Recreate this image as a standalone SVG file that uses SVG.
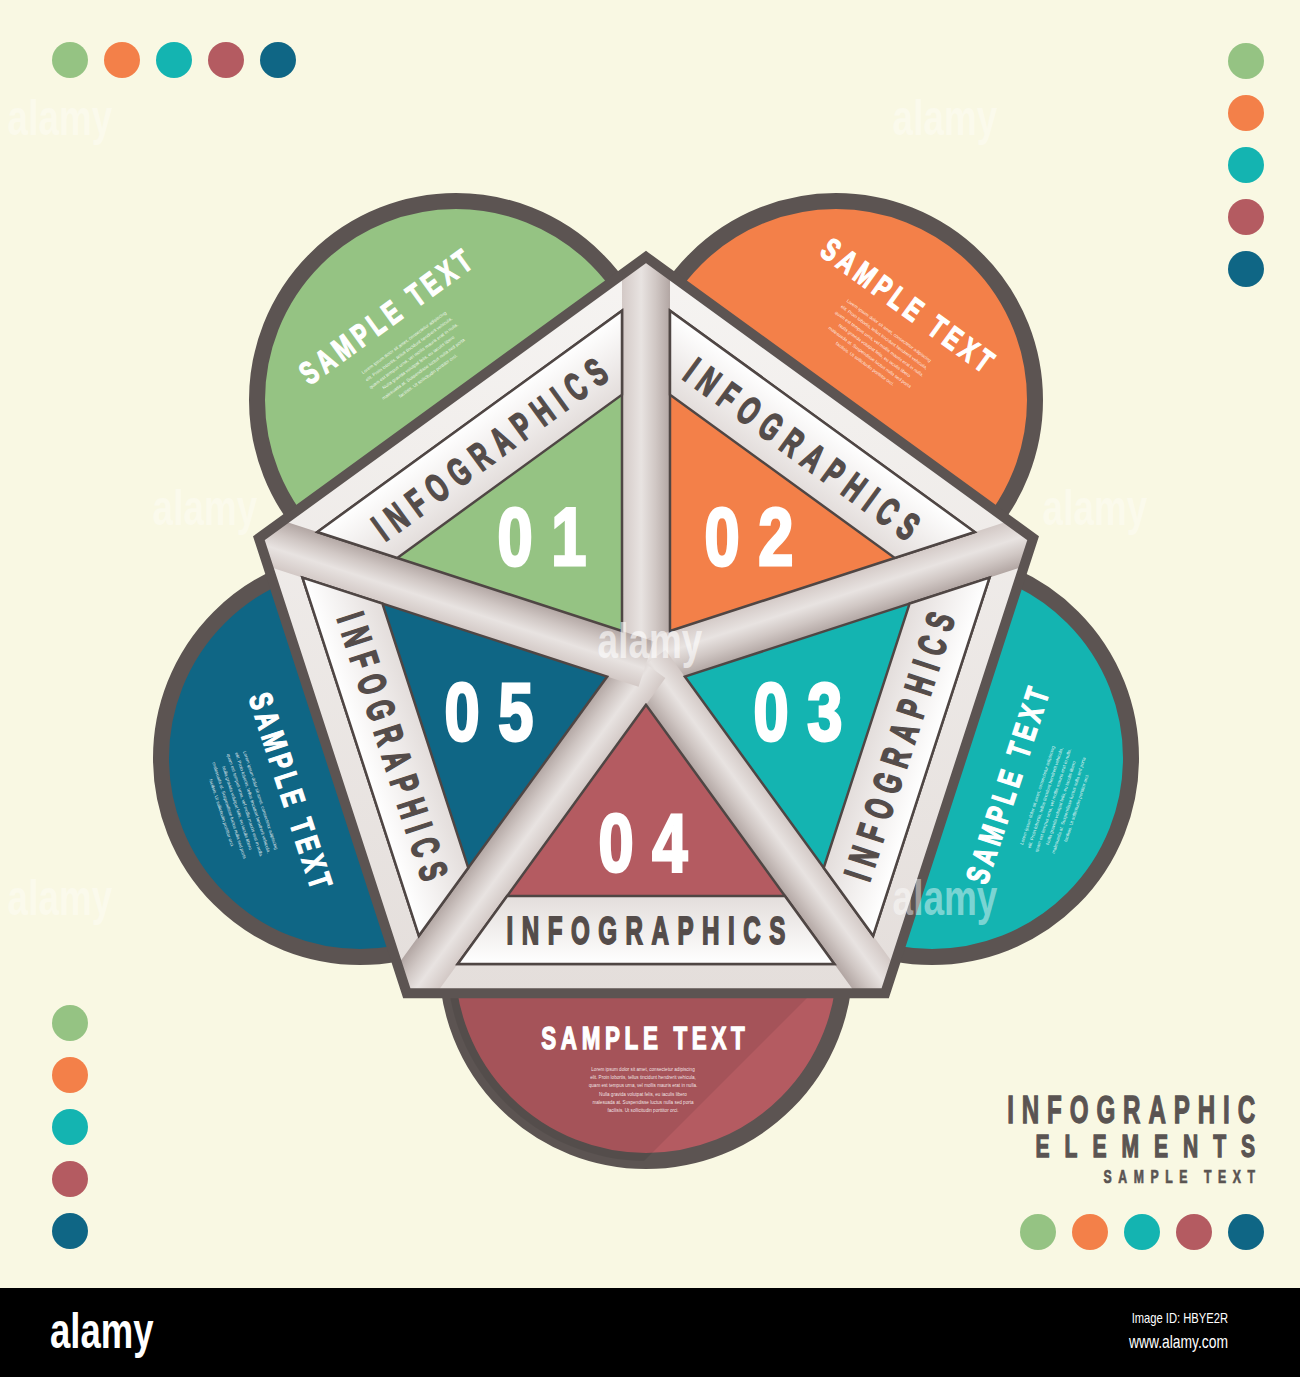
<svg xmlns="http://www.w3.org/2000/svg" width="1300" height="1377" viewBox="0 0 1300 1377">
<defs>
<style>
.bg{fill:#f9f8e3}
.rim{stroke:#5c5452;stroke-width:16}
.g{fill:#95c383}.o{fill:#f38049}.t{fill:#14b4b1}.r{fill:#b45b61}.b{fill:#0f6685}
.tri{stroke:#4f4644;stroke-width:2.5}
.ban{fill:url(#banG);stroke:#4f4644;stroke-width:2.5}
.ib{font-family:"Liberation Sans",Arial,sans-serif;font-weight:bold;font-size:39px;fill:#544c4a;stroke:#544c4a;stroke-width:1.8px;letter-spacing:13.7px;text-anchor:middle}
.num{font-family:"Liberation Sans",Arial,sans-serif;font-weight:bold;font-size:81px;fill:#fff;stroke:#fff;stroke-width:3px;letter-spacing:24px;text-anchor:middle}
.st{font-family:"Liberation Sans",Arial,sans-serif;font-weight:bold;font-size:32px;fill:#fff;stroke:#fff;stroke-width:1.4px;letter-spacing:6.7px;text-anchor:middle}
.lo{font-family:"Liberation Sans",Arial,sans-serif;font-size:4.6px;fill:#fff;fill-opacity:.85;text-anchor:middle}
.tt{font-family:"Liberation Sans",Arial,sans-serif;font-weight:bold;fill:#5a5452;stroke:#5a5452;stroke-width:1.3px;text-anchor:end}
.wm{font-family:"Liberation Sans",Arial,sans-serif;font-weight:bold;font-size:50px;fill:#fff;text-anchor:middle}
.ft{font-family:"Liberation Sans",Arial,sans-serif;fill:#fff}
</style>
<linearGradient id="banG" x1="0" y1="0" x2="0" y2="1"><stop offset="0" stop-color="#ffffff"/><stop offset="1" stop-color="#e3dddb"/></linearGradient>
<linearGradient id="spk" x1="0" y1="0" x2="1" y2="0"><stop offset="0" stop-color="#d3c9c6"/><stop offset="0.4" stop-color="#e8e3e1"/><stop offset="0.7" stop-color="#d0c7c4"/><stop offset="1" stop-color="#b2a6a3"/></linearGradient>
<linearGradient id="frm" x1="0" y1="0" x2="0" y2="1"><stop offset="0" stop-color="#f6f4f2"/><stop offset="1" stop-color="#e4dedb"/></linearGradient>
<clipPath id="pclip"><polygon points="646,257 1033.1,538.2 885.2,993.3 406.8,993.3 258.9,538.2"/></clipPath>
<clipPath id="redclip"><circle cx="646" cy="962" r="199"/></clipPath>
<g id="lorem">
<text class="lo" y="22">Lorem ipsum dolor sit amet, consectetur adipiscing</text>
<text class="lo" y="30.2">elit. Proin lobortis, tellus tincidunt hendrerit vehicula,</text>
<text class="lo" y="38.4">quam est tempus urna, vel mollis mauris erat in nulla.</text>
<text class="lo" y="46.6">Nulla gravida volutpat felis, eu iaculis libero</text>
<text class="lo" y="54.8">malesuada at. Suspendisse luctus nulla sed porta</text>
<text class="lo" y="63">facilisis. Ut sollicitudin porttitor orci.</text>
</g>
</defs>

<rect class="bg" x="0" y="0" width="1300" height="1288"/>

<!-- decorative dots -->
<g id="dots">
<circle class="g" cx="70" cy="60" r="18"/><circle class="o" cx="122" cy="60" r="18"/><circle class="t" cx="174" cy="60" r="18"/><circle class="r" cx="226" cy="60" r="18"/><circle class="b" cx="278" cy="60" r="18"/>
<circle class="g" cx="1246" cy="61" r="18"/><circle class="o" cx="1246" cy="113" r="18"/><circle class="t" cx="1246" cy="165" r="18"/><circle class="r" cx="1246" cy="217" r="18"/><circle class="b" cx="1246" cy="269" r="18"/>
<circle class="g" cx="70" cy="1023" r="18"/><circle class="o" cx="70" cy="1075" r="18"/><circle class="t" cx="70" cy="1127" r="18"/><circle class="r" cx="70" cy="1179" r="18"/><circle class="b" cx="70" cy="1231" r="18"/>
<circle class="g" cx="1038" cy="1232" r="18"/><circle class="o" cx="1090" cy="1232" r="18"/><circle class="t" cx="1142" cy="1232" r="18"/><circle class="r" cx="1194" cy="1232" r="18"/><circle class="b" cx="1246" cy="1232" r="18"/>
</g>

<!-- circles behind pentagon -->
<g id="circle-01">
<circle class="g rim" cx="456" cy="400" r="199"/>
<g transform="translate(392,326) rotate(-36)"><text class="st" transform="scale(0.7 1)" x="3.3">SAMPLE TEXT</text><use href="#lorem"/></g>
</g>
<g id="circle-02">
<circle class="o rim" cx="836" cy="400" r="199"/>
<g transform="translate(901,314) rotate(36)"><text class="st" transform="scale(0.7 1)" x="3.3">SAMPLE TEXT</text><use href="#lorem"/></g>
</g>
<g id="circle-03">
<circle class="t rim" cx="932" cy="758" r="199"/>
<g transform="translate(1018,789) rotate(-72)"><text class="st" transform="scale(0.7 1)" x="3.3">SAMPLE TEXT</text><use href="#lorem"/></g>
</g>
<g id="circle-05">
<circle class="b rim" cx="360" cy="758" r="199"/>
<g transform="translate(280,794) rotate(72)"><text class="st" transform="scale(0.7 1)" x="3.3">SAMPLE TEXT</text><use href="#lorem"/></g>
</g>
<g id="circle-04">
<circle class="r rim" cx="646" cy="962" r="199"/>
<polygon clip-path="url(#redclip)" points="815,990 630,1175 430,1175 430,990" fill="#000" fill-opacity="0.08"/>
<g transform="translate(643,1049)"><text class="st" transform="scale(0.7 1)" x="3.3">SAMPLE TEXT</text><use href="#lorem"/></g>
</g>

<!-- pentagon -->
<g id="pentagon">
<polygon points="646,257 1033.1,538.2 885.2,993.3 406.8,993.3 258.9,538.2" fill="url(#frm)"/>
<g clip-path="url(#pclip)">
<rect x="-24" y="-420" width="48" height="420" fill="url(#spk)" transform="translate(646,664) rotate(0)"/>
<rect x="-24" y="-420" width="48" height="420" fill="url(#spk)" transform="translate(646,664) rotate(72)"/>
<rect x="-24" y="-420" width="48" height="420" fill="url(#spk)" transform="translate(646,664) rotate(144)"/>
<rect x="-24" y="-420" width="48" height="420" fill="url(#spk)" transform="translate(646,664) rotate(216)"/>
<rect x="-24" y="-420" width="48" height="420" fill="url(#spk)" transform="translate(646,664) rotate(288)"/>
</g>
<polygon points="646,257 1033.1,538.2 885.2,993.3 406.8,993.3 258.9,538.2" fill="none" stroke="#5c5452" stroke-width="10"/>
</g>

<g id="sector-01" transform="translate(646,664) rotate(-36)">
<polygon class="g tri" points="0,-40.8 188.3,-300 -188.3,-300"/>
<polygon class="ban" points="-138.9,-232 138.9,-232 188.3,-300 -188.3,-300"/>
<text class="ib" transform="scale(0.62 1)" x="6.8" y="-252">INFOGRAPHICS</text>
</g>
<g id="sector-02" transform="translate(646,664) rotate(36)">
<polygon class="o tri" points="0,-40.8 188.3,-300 -188.3,-300"/>
<polygon class="ban" points="-138.9,-232 138.9,-232 188.3,-300 -188.3,-300"/>
<text class="ib" transform="scale(0.62 1)" x="6.8" y="-252">INFOGRAPHICS</text>
</g>
<g id="sector-03" transform="translate(646,664) rotate(108)">
<polygon class="t tri" points="0,-40.8 188.3,-300 -188.3,-300"/>
<polygon class="ban" points="-138.9,-232 138.9,-232 188.3,-300 -188.3,-300"/>
<text class="ib" transform="rotate(180) scale(0.62 1)" x="6.8" y="280">INFOGRAPHICS</text>
</g>
<g id="sector-04" transform="translate(646,664) rotate(180)">
<polygon class="r tri" points="0,-40.8 188.3,-300 -188.3,-300"/>
<polygon class="ban" points="-138.9,-232 138.9,-232 188.3,-300 -188.3,-300"/>
<text class="ib" transform="rotate(180) scale(0.62 1)" x="6.8" y="280">INFOGRAPHICS</text>
</g>
<g id="sector-05" transform="translate(646,664) rotate(252)">
<polygon class="b tri" points="0,-40.8 188.3,-300 -188.3,-300"/>
<polygon class="ban" points="-138.9,-232 138.9,-232 188.3,-300 -188.3,-300"/>
<text class="ib" transform="rotate(180) scale(0.62 1)" x="6.8" y="280">INFOGRAPHICS</text>
</g>

<g id="numbers">
<g transform="translate(542,565) scale(0.78 1)"><text class="num" x="12">01</text></g>
<g transform="translate(749,565) scale(0.78 1)"><text class="num" x="12">02</text></g>
<g transform="translate(798,740) scale(0.78 1)"><text class="num" x="12">03</text></g>
<g transform="translate(643,871) scale(0.78 1)"><text class="num" x="12">04</text></g>
<g transform="translate(489,740) scale(0.78 1)"><text class="num" x="12">05</text></g>
</g>

<!-- watermarks -->
<g id="watermarks">
<text class="wm" transform="translate(60,135) scale(0.74 1)" fill-opacity="0.35">alamy</text>
<text class="wm" transform="translate(945,135) scale(0.74 1)" fill-opacity="0.35">alamy</text>
<text class="wm" transform="translate(205,525) scale(0.74 1)" fill-opacity="0.35">alamy</text>
<text class="wm" transform="translate(1095,525) scale(0.74 1)" fill-opacity="0.35">alamy</text>
<text class="wm" transform="translate(60,915) scale(0.74 1)" fill-opacity="0.35">alamy</text>
<text class="wm" transform="translate(945,915) scale(0.74 1)" fill-opacity="0.45">alamy</text>
<text class="wm" transform="translate(650,658) scale(0.74 1)" fill-opacity="0.6">alamy</text>
</g>

<g id="title">
<g transform="translate(1263,1123) scale(0.62 1)"><text class="tt" style="font-size:39px;letter-spacing:12.7px">INFOGRAPHIC</text></g>
<g transform="translate(1270,1157) scale(0.68 1)"><text class="tt" style="font-size:31px;letter-spacing:22px">ELEMENTS</text></g>
<g transform="translate(1261.6,1183) scale(0.7 1)"><text class="tt" style="font-size:17.5px;letter-spacing:9.4px;stroke-width:0.7px">SAMPLE TEXT</text></g>
</g>

<g id="footer">
<rect x="0" y="1288" width="1300" height="89" fill="#000"/>
<text class="ft" transform="translate(50,1348) scale(0.73 1)" style="font-size:50px;font-weight:bold">alamy</text>
<text class="ft" transform="translate(1228,1323) scale(0.8 1)" style="font-size:14px;text-anchor:end">Image ID: HBYE2R</text>
<text class="ft" transform="translate(1228,1348) scale(0.77 1)" style="font-size:18px;text-anchor:end">www.alamy.com</text>
</g>
</svg>
